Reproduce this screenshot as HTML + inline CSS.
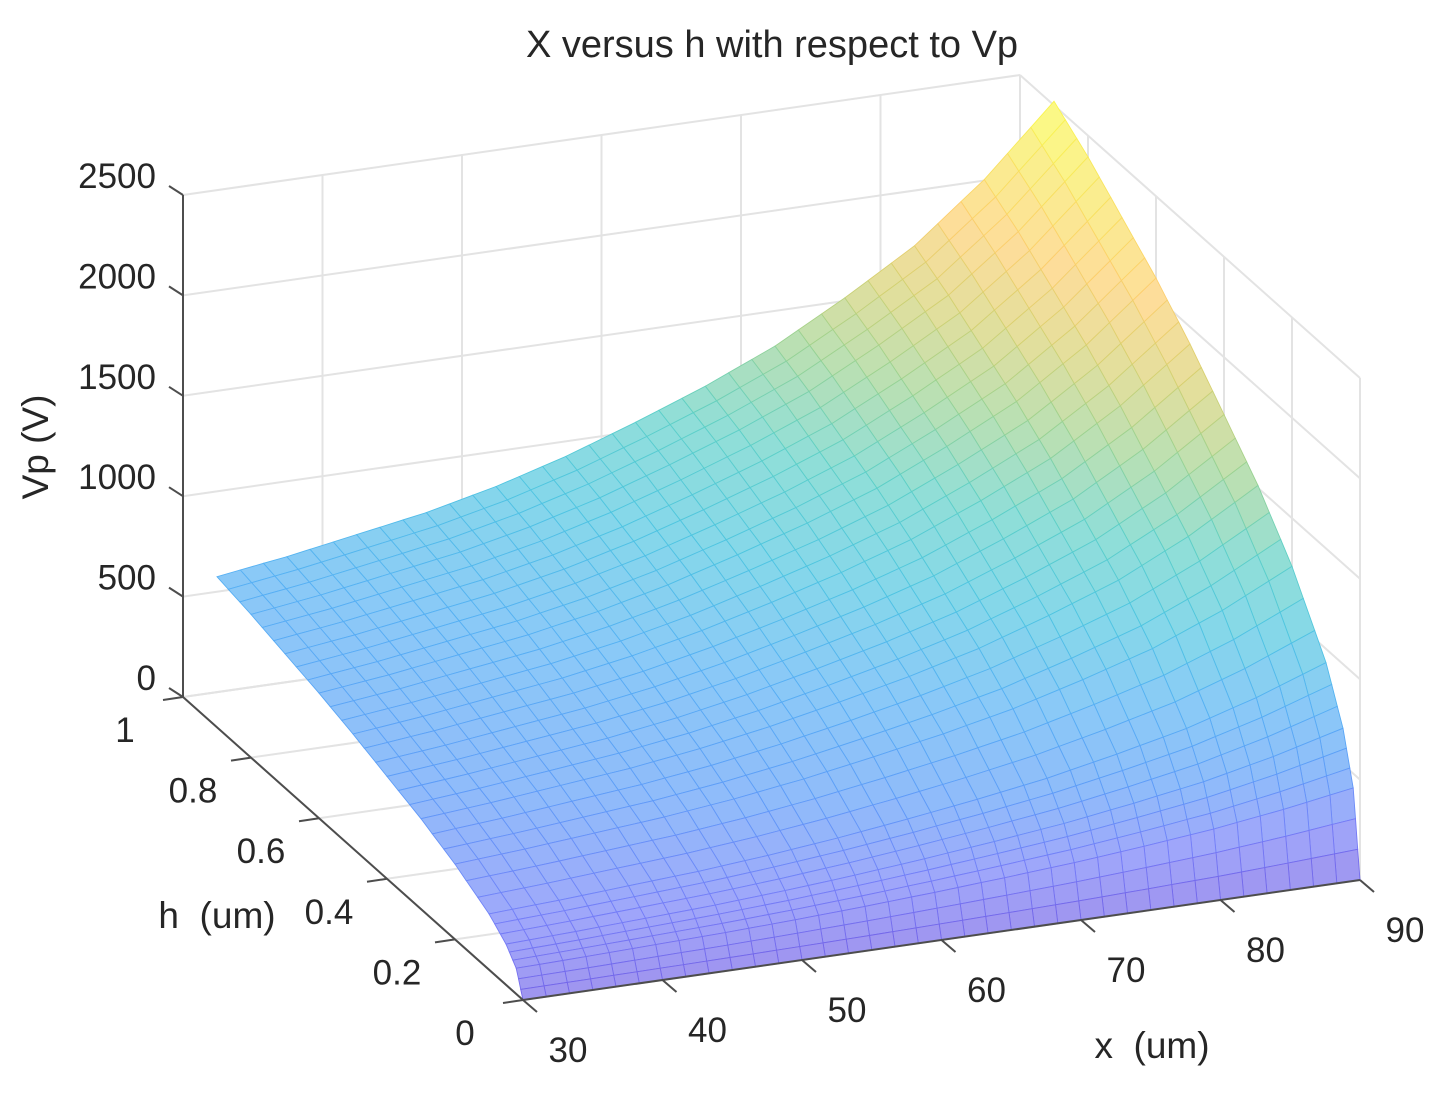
<!DOCTYPE html>
<html><head><meta charset="utf-8"><style>
html,body{margin:0;padding:0;background:#fff;}
svg{display:block;font-family:"Liberation Sans",Arial,sans-serif;}
text{white-space:pre;}
</style></head><body>
<svg id="chart" width="1429" height="1096" viewBox="0 0 1429 1096" xmlns="http://www.w3.org/2000/svg" xml:space="preserve">
<text x="772" y="57" font-size="38" text-anchor="middle" fill="#262626">X versus h with respect to Vp</text>
<g id="grid"></g>
<g id="surf"></g>
<g id="axes"></g>
<text transform="translate(48,447) rotate(-90)" font-size="37" text-anchor="middle" fill="#262626">Vp (V)</text>
<text x="217" y="928" font-size="37" text-anchor="middle" fill="#262626">h  (um)</text>
<text x="1152" y="1058" font-size="37" text-anchor="middle" fill="#262626">x  (um)</text>
</svg>
<script>
// data arrays
const xValues = [30, 35, 40, 45, 50, 55, 60, 65, 70, 75, 80, 85, 90];
const hValues = [0, 0.02, 0.05, 0.1, 0.2, 0.3, 0.4, 0.5, 0.6, 0.7, 0.8, 0.9];
const vp30 = [0,128,203,278,375,450,510,570,623,668,713,750];
const vp35 = [0,136,216,296,400,480,544,608,664,712,760,800];
const vp40 = [0,146,232,318,430,516,585,654,714,765,817,860];
const vp45 = [0,156,248,340,460,552,626,699,764,819,874,920];
const vp50 = [0,170,270,370,500,600,680,760,830,890,950,1000];
const vp55 = [0,187,297,407,550,660,748,836,913,979,1045,1100];
const vp60 = [0,207,329,451,610,732,830,927,1013,1086,1159,1220];
const vp65 = [0,230,365,500,675,810,918,1026,1121,1202,1283,1350];
const vp70 = [0,255,405,555,750,900,1020,1140,1245,1335,1425,1500];
const vp75 = [0,287,456,625,845,1014,1149,1284,1403,1504,1606,1690];
const vp80 = [0,323,513,703,950,1140,1292,1444,1577,1691,1805,1900];
const vp85 = [0,371,589,807,1090,1308,1482,1657,1809,1940,2071,2180];
const vp90 = [0,428,680,932,1260,1512,1714,1915,2092,2243,2394,2520];
const zTicks = [0, 500, 1000, 1500, 2000, 2500];
const zTickLabels = ["0","500","1000","1500","2000","2500"];
const hTicks = [0, 0.2, 0.4, 0.6, 0.8, 1];
const hTickLabels = ["0","0.2","0.4","0.6","0.8","1"];
const xTicks = [30, 40, 50, 60, 70, 80, 90];
const xTickLabels = ["30","40","50","60","70","80","90"];

const VP = [vp30, vp35, vp40, vp45, vp50, vp55, vp60, vp65, vp70, vp75, vp80, vp85, vp90];
const NS = "http://www.w3.org/2000/svg";
const X0 = 523, Y0 = 1000;
function P(x, h, z) {
  return [X0 + 13.95 * (x - 30) - 340 * h, Y0 - 2.0 * (x - 30) - 303 * h - 0.2008 * z];
}
function el(tag, attrs, parent) {
  const e = document.createElementNS(NS, tag);
  for (const k in attrs) e.setAttribute(k, attrs[k]);
  parent.appendChild(e);
  return e;
}
function line(p, q, stroke, w, parent, name) {
  const e = el('line', {x1: p[0], y1: p[1], x2: q[0], y2: q[1], stroke: stroke, 'stroke-width': w}, parent);
  
  
  return e;
}
const grid = document.getElementById('grid');
const axes = document.getElementById('axes');
const GC = '#e3e3e3';
const ZMAX = 2500;
zTicks.forEach(z => line(P(30, 1, z), P(90, 1, z), GC, 2, grid, 'back-wall-gridline'));
xTicks.forEach(x => line(P(x, 1, 0), P(x, 1, ZMAX), GC, 2, grid, 'back-wall-gridline'));
zTicks.forEach(z => line(P(90, 0, z), P(90, 1, z), GC, 2, grid, 'right-wall-gridline'));
hTicks.forEach(h => line(P(90, h, 0), P(90, h, ZMAX), GC, 2, grid, 'right-wall-gridline'));
xTicks.forEach(x => line(P(x, 0, 0), P(x, 1, 0), GC, 2, grid, 'floor-gridline'));
hTicks.forEach(h => line(P(30, h, 0), P(90, h, 0), GC, 2, grid, 'floor-gridline'));

const PAR = [[70,50,225],[71,84,246],[40,125,245],[30,150,240],[20,178,215],[40,192,180],[120,195,110],[200,193,65],[252,190,60],[245,220,40],[249,251,14]];
function color(z, a) {
  let t = Math.max(0, Math.min(1, z / 2520)) * 10;
  const i = Math.min(9, Math.floor(t)), f = t - i;
  const c = PAR[i].map((v, k) => v + (PAR[i + 1][k] - v) * f);
  const m = c.map(v => Math.round(v * a + 255 * (1 - a)));
  return 'rgb(' + m.join(',') + ')';
}
const surf = document.getElementById('surf');
const SUB = 3;
const quads = [];
for (let i = 0; i < xValues.length - 1; i++) {
  for (let j = 0; j < hValues.length - 1; j++) {
    for (let a = 0; a < SUB; a++) for (let b = 0; b < SUB; b++) {
      const u0 = a / SUB, u1 = (a + 1) / SUB, v0 = b / SUB, v1 = (b + 1) / SUB;
      const pt = (u, v) => {
        const x = xValues[i] + (xValues[i + 1] - xValues[i]) * u;
        const h = hValues[j] + (hValues[j + 1] - hValues[j]) * v;
        const z = (1 - u) * (1 - v) * VP[i][j] + u * (1 - v) * VP[i + 1][j] + (1 - u) * v * VP[i][j + 1] + u * v * VP[i + 1][j + 1];
        return [x, h, z];
      };
      const c = [pt(u0, v0), pt(u1, v0), pt(u1, v1), pt(u0, v1)];
      const depth = c.reduce((s, p) => s + p[1] + (p[0] - 30) / 60, 0);
      quads.push({c, depth});
    }
  }
}
quads.sort((a, b) => b.depth - a.depth);
quads.forEach(q => {
  const zAvg = q.c.reduce((s, p) => s + p[2], 0) / 4;
  const pts = q.c.map(p => P(p[0], p[1], p[2]).map(v => v.toFixed(1)).join(',')).join(' ');
  const poly = el('polygon', {points: pts, fill: color(zAvg, 0.52), stroke: color(zAvg, 0.75), 'stroke-width': 0.9}, surf);
  
  
});

const AC = '#4d4d4d';
line(P(30, 1, 0), P(30, 1, ZMAX), AC, 2, axes, 'z-axis-line');
line(P(30, 1, 0), P(30, 0, 0), AC, 2, axes, 'h-axis-line');
line(P(30, 0, 0), P(90, 0, 0), AC, 2, axes, 'x-axis-line');
zTicks.forEach((z, k) => {
  const p = P(30, 1, z);
  line(p, [p[0] - 14, p[1] - 9], AC, 2, axes, 'z-tick');
  const t = el('text', {x: 156, y: p[1] - 7, 'font-size': 35, 'text-anchor': 'end', fill: '#262626'}, axes);
  
  
  t.textContent = zTickLabels[k];
});
hTicks.forEach((h, k) => {
  const p = P(30, h, 0);
  line(p, [p[0] - 20, p[1] + 3], AC, 2, axes, 'h-tick');
  const t = el('text', {x: p[0] - 58, y: p[1] + 45, 'font-size': 35, 'text-anchor': 'middle', fill: '#262626'}, axes);
  
  
  t.textContent = hTickLabels[k];
});
xTicks.forEach((x, k) => {
  const p = P(x, 0, 0);
  line(p, [p[0] + 14, p[1] + 12], AC, 2, axes, 'x-tick');
  const t = el('text', {x: p[0] + 45, y: p[1] + 62, 'font-size': 35, 'text-anchor': 'middle', fill: '#262626'}, axes);
  
  
  t.textContent = xTickLabels[k];
});
</script>
</body></html>
